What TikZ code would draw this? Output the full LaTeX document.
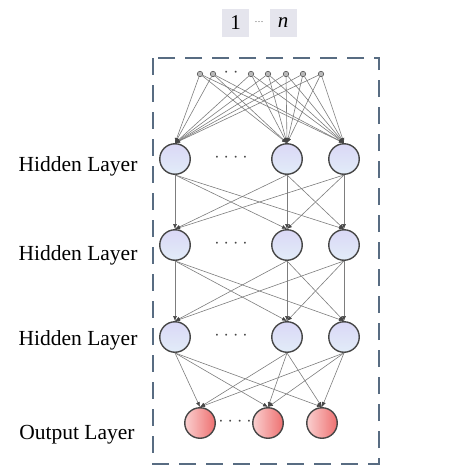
\documentclass[tikz,border=0pt]{standalone}
\usepackage{fontspec}
\setmainfont{Liberation Serif}
\usepackage{xcolor}
\usetikzlibrary{arrows.meta, positioning}

\definecolor{frameblue}{RGB}{88,108,130}
\definecolor{edgegray}{RGB}{125,125,125}
\definecolor{ringgray}{RGB}{70,70,70}
\definecolor{tagbg}{RGB}{229,229,237}
\definecolor{hidtop}{RGB}{218,216,246}
\definecolor{hidbot}{RGB}{226,236,248}
\definecolor{outlight}{RGB}{250,208,208}
\definecolor{outdark}{RGB}{238,112,112}

\tikzset{
  hidden/.style={circle, draw=ringgray, line width=1.4pt, inner sep=0pt,
    minimum size=30.5pt, top color=hidtop, bottom color=hidbot},
  output/.style={circle, draw=ringgray, line width=1.4pt, inner sep=0pt,
    minimum size=30.5pt, left color=outlight, right color=outdark},
  input/.style={circle, draw=gray!70!black, fill=gray!55, line width=0.6pt,
    inner sep=0pt, minimum size=5.5pt},
  link/.style={-{Latex[length=5pt, width=4pt, color=ringgray]}, draw=edgegray,
    line width=0.6pt},
  layer/.style={font=\fontsize{21.5}{25}\selectfont},
  tag/.style={fill=tagbg, minimum width=27pt, minimum height=28pt, inner sep=0pt,
    font=\fontsize{21}{25}\selectfont},
  dots/.style={text=ringgray, inner sep=0pt, font=\fontsize{16}{16}\selectfont}
}

\begin{document}
\begin{tikzpicture}[x=1pt, y=-1pt]
  \useasboundingbox (0,0) rectangle (474,474);

  % Frame
  \draw[frameblue, line width=1.8pt, dash pattern=on 17pt off 10pt]
    (153,58) rectangle (379,464);

  % Index tags
  \node[tag] (tag1) at (235.5,23) {1};
  \node[tag] (tagn) at (283,23) {\textit{n}};
  \node[dots, font=\fontsize{9}{9}\selectfont] (tagdots) at (259,22) {…};

  % Input units
  \foreach \i/\x in {1/200,2/213,3/251,4/268,5/286,6/303,7/321}{
    \node[input] (in\i) at (\x,74) {};
  }
  \node[dots] (indots) at (231,74) {·\hspace{4pt}·};

  % Hidden layers
  \foreach \r/\y in {1/159,2/245,3/337}{
    \foreach \c/\x in {1/175,2/287,3/344}{
      \node[hidden] (h\r\c) at (\x,\y) {};
    }
    \node[dots] (hdots\r) at (231,\y) {· · · ·};
  }

  % Output layer
  \foreach \c/\x in {1/200,2/268,3/322}{
    \node[output] (out\c) at (\x,423) {};
  }
  \node[dots] (outdots) at (235,423) {· · · ·};

  % Connections
  \foreach \i in {1,...,7}{
    \foreach \c in {1,2,3}{
      \draw[link] (in\i) -- (h1\c.north);
    }
  }
  \foreach \r/\s in {1/2,2/3}{
    \foreach \a in {1,2,3}{
      \foreach \b in {1,2,3}{
        \draw[link] (h\r\a.south) -- (h\s\b.north);
      }
    }
  }
  \foreach \a in {1,2,3}{
    \foreach \b in {1,2,3}{
      \draw[link] (h3\a.south) -- (out\b.north);
    }
  }

  % Labels
  \node[layer] (lab1) at (78,166) {Hidden Layer};
  \node[layer] (lab2) at (78,255) {Hidden Layer};
  \node[layer] (lab3) at (78,340) {Hidden Layer};
  \node[layer] (lab4) at (77,435) {Output Layer};
\end{tikzpicture}
\end{document}
